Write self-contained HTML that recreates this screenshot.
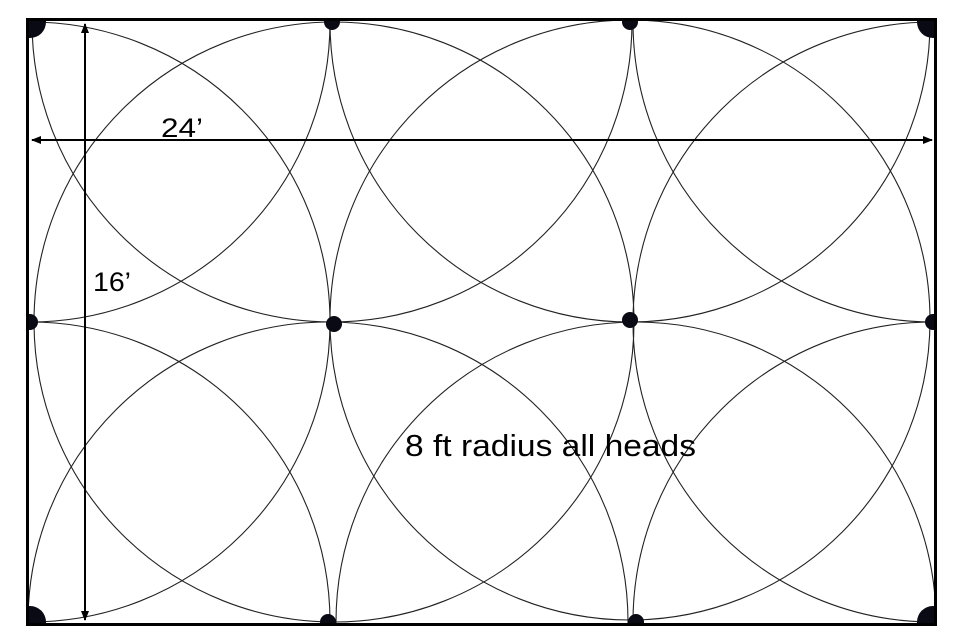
<!DOCTYPE html>
<html><head><style>html,body{margin:0;padding:0;background:#fff;overflow:hidden;width:960px;height:638px}svg{display:block}</style></head>
<body>
<svg width="960" height="638" viewBox="0 0 960 638" xmlns="http://www.w3.org/2000/svg">
<defs>
<clipPath id="c"><rect x="29" y="21" width="905" height="602"/></clipPath>
<marker id="a" markerWidth="10" markerHeight="10" refX="9" refY="5" orient="auto" markerUnits="userSpaceOnUse"><path d="M0,1 L10,5 L0,9 z" fill="#000"/></marker>
</defs>
<g clip-path="url(#c)" fill="none" stroke="#222" stroke-width="1.1">
<circle cx="30" cy="22" r="300"/><circle cx="332" cy="22" r="300"/><circle cx="630" cy="22" r="300"/><circle cx="933" cy="22" r="300"/>
<circle cx="30" cy="322" r="300"/><circle cx="334" cy="322" r="300"/><circle cx="630" cy="320" r="300"/><circle cx="933" cy="322" r="300"/>
<circle cx="30" cy="622" r="300"/><circle cx="328" cy="622" r="300"/><circle cx="636" cy="622" r="300"/><circle cx="933" cy="622" r="300"/>
</g>
<g clip-path="url(#c)" fill="#0a0a14">
<circle cx="30" cy="22" r="16"/><circle cx="933" cy="22" r="16"/><circle cx="30" cy="622" r="16"/><circle cx="933" cy="622" r="16"/>
<circle cx="332" cy="22" r="8"/><circle cx="630" cy="22" r="8"/>
<circle cx="30" cy="322" r="8"/><circle cx="933" cy="322" r="8"/>
<circle cx="328" cy="622" r="8"/><circle cx="636" cy="622" r="8"/>
</g>
<circle cx="334" cy="324" r="8" fill="#0a0a14"/>
<circle cx="630" cy="320" r="8" fill="#0a0a14"/>
<rect x="27.5" y="19.5" width="908" height="605" fill="none" stroke="#000" stroke-width="3"/>
<line x1="85" y1="610" x2="85" y2="24" stroke="#000" stroke-width="2" marker-end="url(#a)"/>
<line x1="85" y1="40" x2="85" y2="620" stroke="#000" stroke-width="2" marker-end="url(#a)"/>
<line x1="900" y1="140" x2="32" y2="140" stroke="#000" stroke-width="2" marker-end="url(#a)"/>
<line x1="60" y1="140" x2="932" y2="140" stroke="#000" stroke-width="2" marker-end="url(#a)"/>
<g font-family="Liberation Sans, sans-serif" fill="#000">
<text x="161" y="137" font-size="27" textLength="42" lengthAdjust="spacingAndGlyphs">24’</text>
<text x="93" y="291" font-size="27" textLength="38" lengthAdjust="spacingAndGlyphs">16’</text>
<text x="405" y="456" font-size="31" textLength="291" lengthAdjust="spacingAndGlyphs">8 ft radius all heads</text>
</g>
</svg>
</body></html>
